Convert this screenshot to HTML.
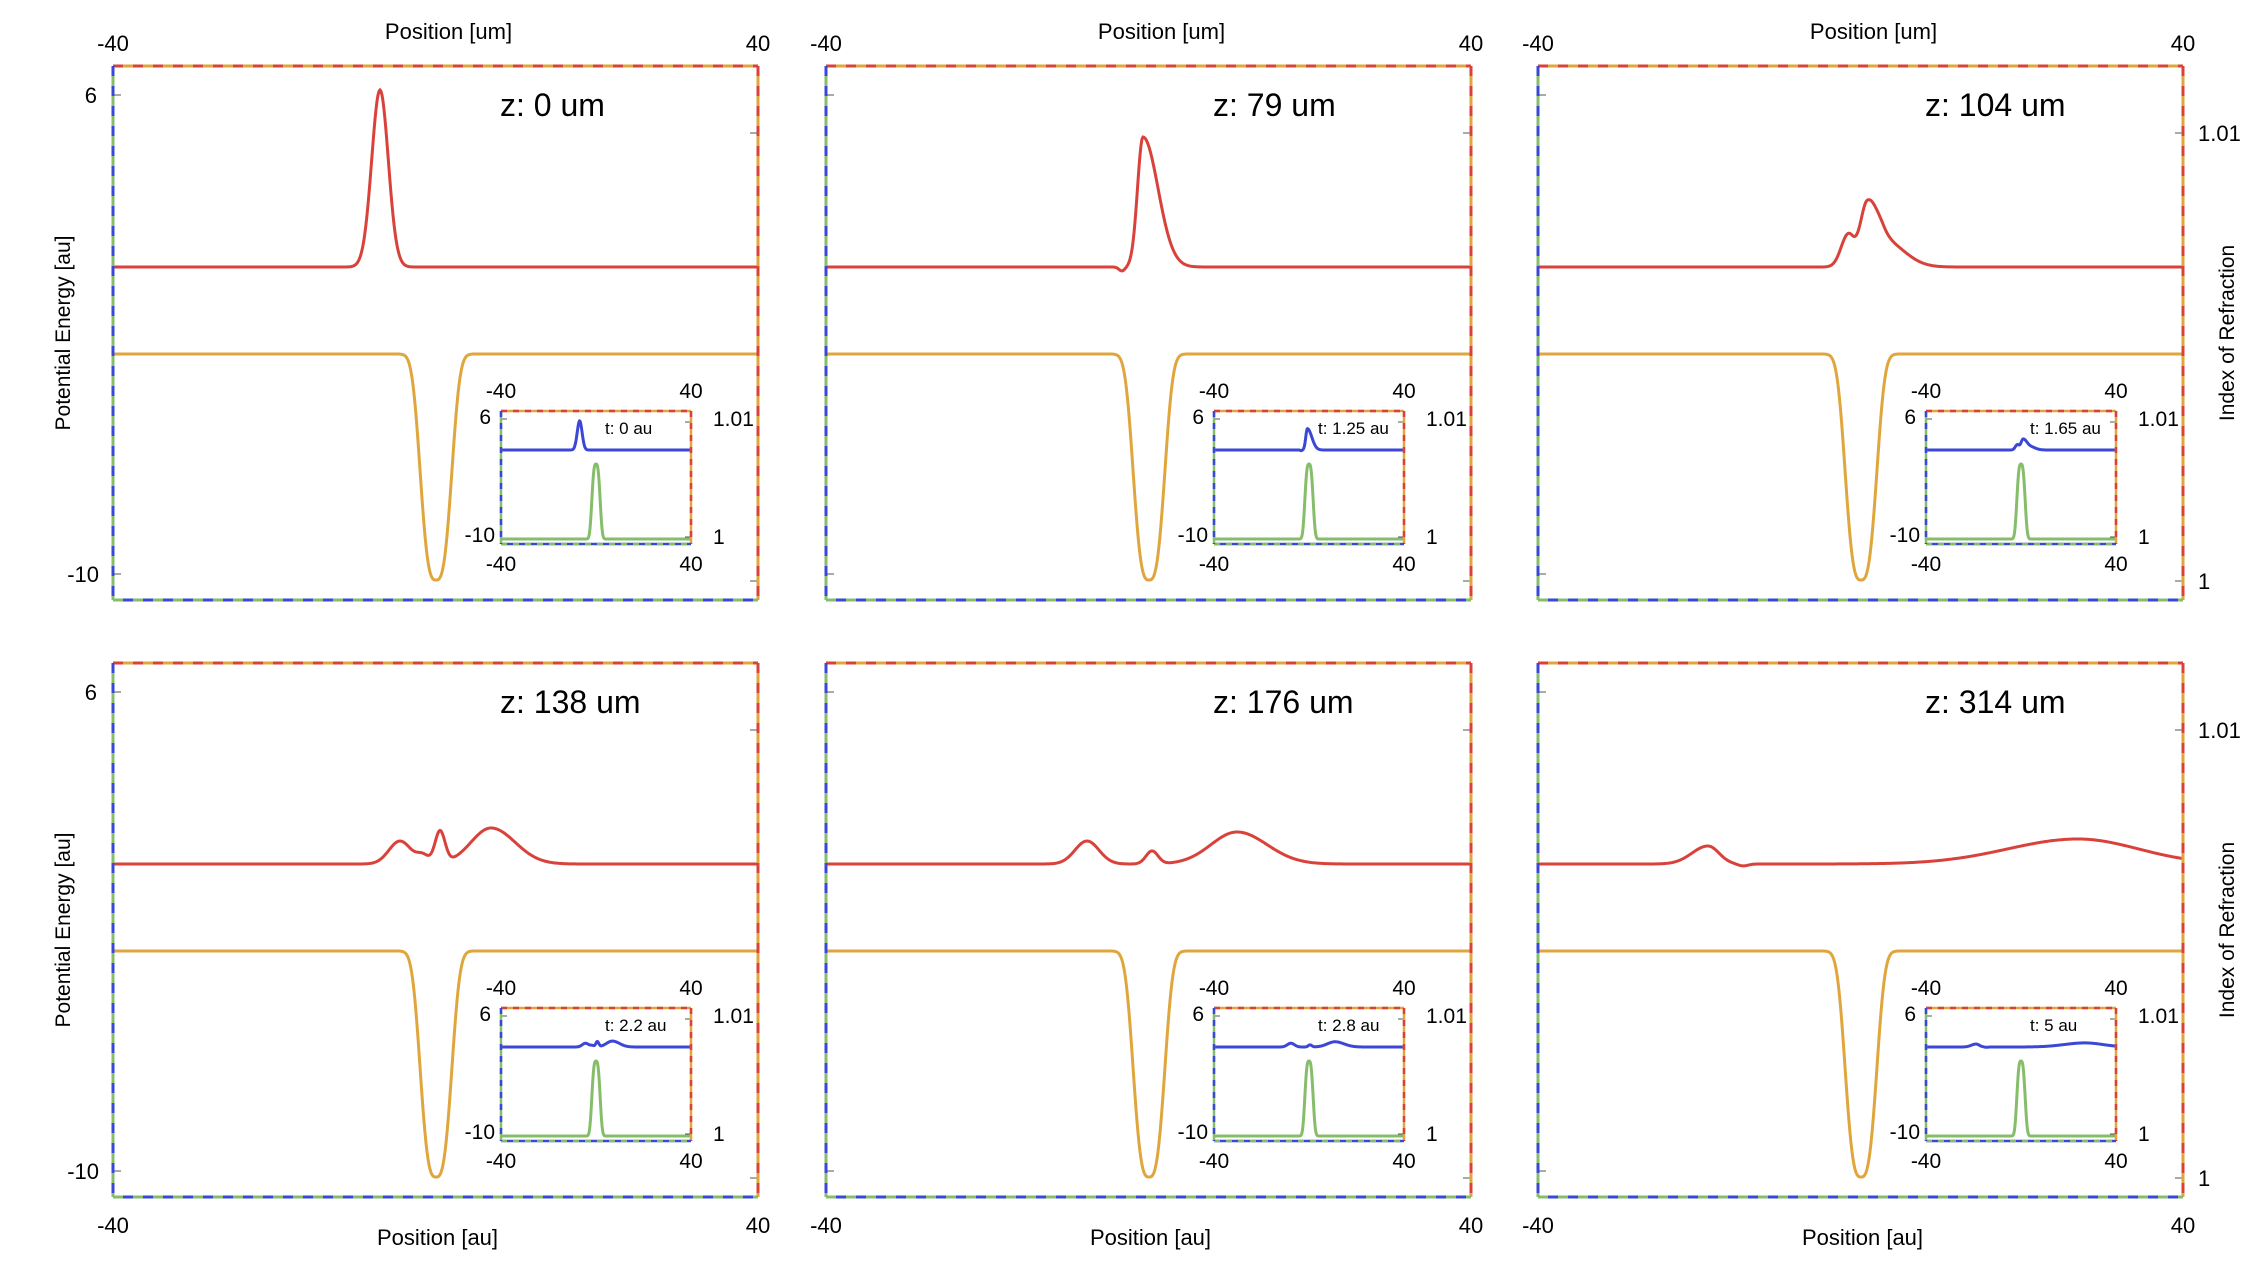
<!DOCTYPE html>
<html><head><meta charset="utf-8"><style>
html,body{margin:0;padding:0;background:#fff;}
svg{display:block;font-family:"Liberation Sans",sans-serif;}
</style></head><body>
<svg id="s" width="2260" height="1272" viewBox="0 0 2260 1272" xmlns="http://www.w3.org/2000/svg"></svg>
<script>
const S=document.getElementById('s');
let out='';
const W=645,H=534;
const cols=[113,826,1538], rows=[66,663];
const RED='#d9423a',YEL='#e0a63e',BLU='#3b47d6',GRN='#86bd6a';
function g(x,c,h,s){return h*Math.exp(-((x-c)*(x-c))/(2*s*s));}
function ga(x,c,h,sl,sr){const s=x<c?sl:sr;return g(x,c,h,s);}
const reds=[
 x=>g(x,267,177,8.3),
 x=>ga(x,317,130,5.5,15)-g(x,296,4,3),
 x=>ga(x,329,62,7,10)+ga(x,310,32,7,6)+ga(x,346,26,9,20),
 x=>g(x,287,23,11)+g(x,327,32,5)+g(x,310,8,6)+ga(x,378,36,20,24),
 x=>g(x,261,23,12)+g(x,326,13,6)+ga(x,411,32,26,30),
 x=>ga(x,170,18,16,11)-g(x,205,2,5)+ga(x,540,25,70,60)
];
const zs=['z: 0 um','z: 79 um','z: 104 um','z: 138 um','z: 176 um','z: 314 um'];
const ts=['t: 0 au','t: 1.25 au','t: 1.65 au','t: 2.2 au','t: 2.8 au','t: 5 au'];
function path(fn,x0,x1,step){let d='';for(let x=x0;x<=x1+0.001;x+=step){const y=fn(x);d+=(d?'L':'M')+x.toFixed(2)+' '+y.toFixed(2);}return d;}
function frame(x,y,w,h,dash,sw){
 const L=(x1,y1,x2,y2,c1,c2)=>`<line x1="${x1}" y1="${y1}" x2="${x2}" y2="${y2}" stroke="${c1}" stroke-width="${sw}"/><line x1="${x1}" y1="${y1}" x2="${x2}" y2="${y2}" stroke="${c2}" stroke-width="${sw}" stroke-dasharray="${dash} ${dash}"/>`;
 return L(x,y,x+w,y,YEL,RED)+L(x+w,y,x+w,y+h,YEL,RED)+L(x,y+h,x+w,y+h,BLU,GRN)+L(x,y,x,y+h,GRN,BLU);
}
function well(x){const d=Math.abs(x-323);return 226*Math.exp(-Math.pow(d/18.3,3));}
for(let r=0;r<2;r++)for(let c=0;c<3;c++){
 const i=r*3+c, X=cols[c], Y=rows[r];
 out+=`<g transform="translate(${X},${Y})">`;
 out+=`<line x1="0" y1="29" x2="8" y2="29" stroke="#555" stroke-width="1"/><line x1="0" y1="508" x2="8" y2="508" stroke="#555" stroke-width="1"/>`;
 out+=`<line x1="${W-8}" y1="67" x2="${W}" y2="67" stroke="#555" stroke-width="1"/><line x1="${W-8}" y1="515" x2="${W}" y2="515" stroke="#555" stroke-width="1"/>`;
 out+=`<path d="${path(x=>201-reds[i](x),0,W,1)}" fill="none" stroke="${RED}" stroke-width="3"/>`;
 out+=`<path d="${path(x=>288+well(x),0,W,1)}" fill="none" stroke="${YEL}" stroke-width="3"/>`;
 out+=frame(0,0,W,H,10,3);
 out+=`<text x="387" y="50" font-size="32">${zs[i]}</text>`;
 const ix=388,iy=345,iw=190,ih=133;
 out+=`<rect x="${ix}" y="${iy}" width="${iw}" height="${ih}" fill="#fff"/>`;
 out+=`<line x1="${ix}" y1="${iy+8}" x2="${ix+6}" y2="${iy+8}" stroke="#555"/><line x1="${ix+iw-6}" y1="${iy+11}" x2="${ix+iw}" y2="${iy+11}" stroke="#555"/><line x1="${ix+iw-6}" y1="${iy+126}" x2="${ix+iw}" y2="${iy+126}" stroke="#555"/>`;
 const sx=iw/W;
 out+=`<path d="${path(t=>iy+39-reds[i](t/sx)*0.164,0,iw,0.5)}" transform="translate(${ix},0)" fill="none" stroke="${BLU}" stroke-width="3"/>`;
 out+=`<path d="${path(t=>iy+128-75*Math.exp(-Math.pow(Math.abs(t-95)/4.8,3)),0,iw,0.5)}" transform="translate(${ix},0)" fill="none" stroke="${GRN}" stroke-width="3"/>`;
 out+=frame(ix,iy,iw,ih,6,2.5);
 out+=`<text x="${ix+104}" y="${iy+23}" font-size="17">${ts[i]}</text>`;
 out+=`<text x="${ix}" y="${iy-13}" font-size="21" text-anchor="middle">-40</text><text x="${ix+iw}" y="${iy-13}" font-size="21" text-anchor="middle">40</text>`;
 out+=`<text x="${ix}" y="${iy+ih+27}" font-size="21" text-anchor="middle">-40</text><text x="${ix+iw}" y="${iy+ih+27}" font-size="21" text-anchor="middle">40</text>`;
 out+=`<text x="${ix-10}" y="${iy+13}" font-size="21" text-anchor="end">6</text><text x="${ix-6}" y="${iy+ih-2}" font-size="21" text-anchor="end">-10</text>`;
 out+=`<text x="${ix+iw+22}" y="${iy+15}" font-size="21">1.01</text><text x="${ix+iw+22}" y="${iy+ih}" font-size="21">1</text>`;
 out+=`</g>`;
 if(r===0){out+=`<text x="${X}" y="51" font-size="22" text-anchor="middle">-40</text><text x="${X+W}" y="51" font-size="22" text-anchor="middle">40</text><text x="${X+W/2+13}" y="39" font-size="22" text-anchor="middle">Position [um]</text>`;}
 else{out+=`<text x="${X}" y="1233" font-size="22" text-anchor="middle">-40</text><text x="${X+W}" y="1233" font-size="22" text-anchor="middle">40</text><text x="${X+W/2+2}" y="1245" font-size="22" text-anchor="middle">Position [au]</text>`;}
 if(c===0){out+=`<text x="97" y="${Y+37}" font-size="22" text-anchor="end">6</text><text x="99" y="${Y+516}" font-size="22" text-anchor="end">-10</text><text transform="translate(70,${Y+H/2}) rotate(-90)" font-size="21" text-anchor="middle">Potential Energy [au]</text>`;}
 if(c===2){out+=`<text x="2198" y="${Y+75}" font-size="22">1.01</text><text x="2198" y="${Y+523}" font-size="22">1</text><text transform="translate(2234,${Y+H/2}) rotate(-90)" font-size="21" text-anchor="middle">Index of Refraction</text>`;}
}
S.innerHTML=out;
</script>
</body></html>
